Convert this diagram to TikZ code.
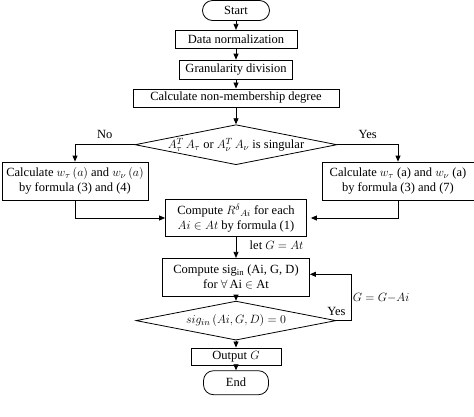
\documentclass[tikz,border=0pt]{standalone}
\usepackage{amsmath}
\usepackage{fontspec}
\setmainfont{Liberation Serif}
\usepackage{tikz}
\usetikzlibrary{arrows.meta, positioning, calc, shapes}

\begin{document}
\begin{tikzpicture}[
    x=1pt, y=1pt,
    node distance=9pt,
    font=\fontsize{12.5}{15}\selectfont,
    procbox/.style={rectangle, draw, line width=0.8pt, align=center, inner sep=2pt},
    terminal/.style={rectangle, draw, line width=0.8pt, rounded corners=10pt, minimum width=67pt, minimum height=20pt, inner sep=2pt},
    decision/.style={diamond, draw, line width=0.8pt, inner sep=0pt, minimum width=202pt, minimum height=40pt},
    flow/.style={-{Triangle[length=6pt, width=5pt]}, line width=0.8pt}
]
\useasboundingbox (0,0) rectangle (474,-416);

% Main column
\node[terminal] (start) at (236,-10.5) {Start};
\node[procbox, minimum width=122pt, minimum height=18pt, below=9pt of start] (norm) {Data normalization};
\node[procbox, minimum width=113pt, minimum height=19pt, below=11pt of norm] (gran) {Granularity division};
\node[procbox, minimum width=206pt, minimum height=18pt, below=9pt of gran] (nonmem) {Calculate non-membership degree};
\node[decision, below=17pt of nonmem, label=center:{$A_\tau^{T}\,A_\tau$ or $A_\nu^{T}\,A_\nu$ is singular}] (sing) {};

% Side branches
\node[procbox, minimum width=146pt, minimum height=38pt] (wleft) at (75,-181) {Calculate $w_\tau\,(a)$ and $w_\nu\,(a)$\\ by formula (3) and (4)};
\node[procbox, minimum width=152pt, minimum height=38pt] (wright) at (398,-181) {Calculate $w_\tau$ (a) and $w_\nu$ (a)\\ by formula (3) and (7)};

\node[procbox, minimum width=141pt, minimum height=37pt, below=34pt of sing] (rdelta) {Compute $R^{\delta}{}_{Ai}$ for each\\ $Ai \in At$ by formula (1)};
\node[procbox, minimum width=147pt, minimum height=38pt, below=21pt of rdelta] (sig) {Compute sig$_{\mathrm{in}}$ (Ai, G, D)\\ for $\forall$\,Ai $\in$ At};
\node[decision, minimum width=200pt, minimum height=39pt, below=4pt of sig, label=center:{$sig_{in}\,(Ai, G, D) = 0$}] (zero) {};
\node[procbox, minimum width=90pt, minimum height=17pt, below=7pt of zero] (out) {Output $G$};
\node[terminal, minimum width=65pt, minimum height=24pt, below=5pt of out] (end) {End};

% Connectors
\draw[flow] (start) -- (norm);
\draw[flow] (norm) -- (gran);
\draw[flow] (gran) -- (nonmem);
\draw[flow] (nonmem) -- (sing);
\draw[flow] (sing.west) -| node[pos=0.25, above=2pt] {No} (wleft.north);
\draw[flow] (sing.east) -| node[pos=0.25, above=2pt] {Yes} (wright.north);
\draw[flow] (wleft.south) |- (rdelta.west);
\draw[flow, shorten >=4pt] (wright.south) |- (rdelta.east);
\draw[flow] (rdelta) -- node[right, xshift=10pt, yshift=2pt] {let $G = At$} (sig);
\draw[flow] (sig) -- (zero);
\coordinate (loop) at ($(zero.east)+(15,0)$);
\draw[flow] (zero.east) node[above=1pt] {Yes} -- (loop) |- node[pos=0.25, right, inner sep=1pt] {$G = G{-}Ai$} ($(sig.east)+(0,3)$);
\draw[flow] (zero) -- (out);
\draw[flow] (out) -- (end);

\end{tikzpicture}
\end{document}
